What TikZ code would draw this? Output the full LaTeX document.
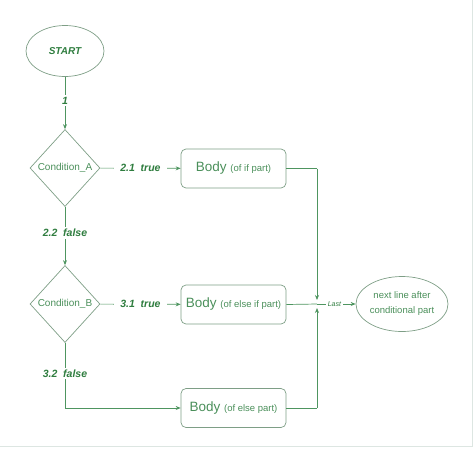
\documentclass[tikz,border=0pt]{standalone}
\usepackage{fontspec}
\setmainfont{Liberation Sans}
\usetikzlibrary{arrows.meta,shapes.geometric}
\definecolor{txtg}{HTML}{2F7D3F}
\definecolor{ltxtg}{HTML}{4A8F5A}
\definecolor{lineg}{HTML}{4E9560}
\definecolor{boxg}{HTML}{7E9E86}
\definecolor{frameg}{HTML}{DDE6E2}
\tikzset{
  every node/.style={text=txtg},
  conn/.style={draw=lineg, line width=0.7pt},
  arr/.style={conn, -{Stealth[length=5pt,width=4pt]}},
  term/.style={ellipse, draw=boxg, line width=0.7pt, minimum width=78pt, minimum height=51pt, inner sep=0pt},
  endterm/.style={ellipse, draw=boxg, line width=0.7pt, minimum width=92pt, minimum height=55pt, inner sep=0pt, align=center, text=ltxtg, font=\fontsize{9.5}{15}\selectfont},
  cond/.style={diamond, draw=boxg, line width=0.7pt, minimum width=70pt, minimum height=77pt, inner sep=0pt, text=ltxtg, font=\fontsize{10}{12}\selectfont, aspect=0.91},
  bodybox/.style={rectangle, rounded corners=5pt, draw=boxg, line width=0.7pt, minimum width=105pt, minimum height=39pt, inner sep=0pt, text=ltxtg},
  lab/.style={fill=white, inner xsep=6pt, inner ysep=2pt, font=\fontsize{10.5}{12}\selectfont\bfseries\itshape},
}
\begin{document}
\begin{tikzpicture}[x=1pt,y=-1pt]
\useasboundingbox (0,0) rectangle (474,448);
\draw[frameg, line width=1pt] (472,0) -- (472,446) -- (0,446);
\node[term, font=\fontsize{10}{12}\selectfont\bfseries\itshape] (start) at (65,51) {START};
\node[cond] (ca) at (65,168) {Condition\_A};
\node[cond] (cb) at (65,304) {Condition\_B};
\node[bodybox] (bif) at (233.5,168.5) {\fontsize{13.5}{16}\selectfont Body \fontsize{9.5}{12}\selectfont(of if part)};
\node[bodybox] (belif) at (233.5,304.5) {\fontsize{13.5}{16}\selectfont Body \fontsize{9.5}{12}\selectfont(of else if part)};
\node[bodybox] (belse) at (233.5,408) {\fontsize{13.5}{16}\selectfont Body \fontsize{9.5}{12}\selectfont(of else part)};
\node[endterm] (next) at (402,304) {next line after\\conditional part};
\coordinate (j) at (317,304);
\coordinate (jt) at (317,300);
\coordinate (jb) at (317,308);
\coordinate (c1) at (317,168.5);
\coordinate (c3) at (317,408);
\coordinate (c2) at (65,408);
\draw[arr] (start) -- node[lab, pos=0.45] {1} (ca);
\draw[arr] (ca) -- node[lab, pos=0.5] {2.1\ \ true} (bif);
\draw[arr] (ca) -- node[lab, pos=0.45] {2.2\ \ false} (cb);
\draw[arr] (cb) -- node[lab, pos=0.5] {3.1\ \ true} (belif);
\draw[conn] (cb) -- node[lab, pos=0.47] {3.2\ \ false} (c2);
\draw[arr] (c2) -- (belse);
\draw[conn] (bif.east) -- (c1);
\draw[arr] (c1) -- (jt);
\draw[conn] (belse.east) -- (c3);
\draw[arr] (c3) -- (jb);
\draw[conn] (belif.east) -- (j);
\draw[arr] (j) -- node[fill=white, inner sep=1.5pt, pos=0.45, font=\fontsize{7}{8}\selectfont\itshape] {Last} (next);
\end{tikzpicture}
\end{document}
